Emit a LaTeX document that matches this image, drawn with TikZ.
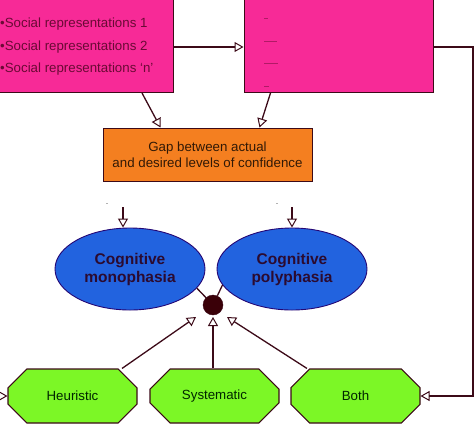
\documentclass[tikz,border=0pt]{standalone}
\usepackage{fontspec}
\setmainfont{Liberation Sans}
\usetikzlibrary{arrows.meta,shapes.geometric,shapes.misc,calc}
\definecolor{pinkf}{HTML}{F72A97}
\definecolor{orangef}{HTML}{F47F20}
\definecolor{bluef}{HTML}{2263DF}
\definecolor{greenf}{HTML}{7CF726}
\definecolor{edge}{HTML}{3C0A18}
\definecolor{pinktxt}{HTML}{6A0A35}
\definecolor{elltxt}{HTML}{2B0B30}
\definecolor{dotf}{HTML}{3A0008}
\tikzset{
  pinkbox/.style={draw=edge, line width=1pt, fill=pinkf, rectangle, inner sep=0pt},
  gapbox/.style={draw=edge, line width=1pt, fill=orangef, rectangle, minimum width=209pt, minimum height=53pt, align=center, font=\fontsize{13.3}{16}\selectfont, text=black!80!orangef},
  ellnode/.style={draw=edge!60!blue, line width=0.9pt, fill=bluef, ellipse, minimum width=150pt, minimum height=82pt, inner sep=0pt, align=center, font=\fontsize{15.5}{18}\selectfont\bfseries, text=elltxt},
  octo/.style={draw=edge, line width=1.1pt, fill=greenf, chamfered rectangle, chamfered rectangle xsep=12pt, chamfered rectangle ysep=14pt, minimum width=129pt, minimum height=54pt, inner sep=0pt, font=\fontsize{13.3}{16}\selectfont, text=black!85!green},
  arr/.style={draw=edge, line width=1.3pt, -{Triangle[open, length=9pt, width=10pt, line width=1pt]}},
  link/.style={draw=edge, line width=1.3pt},
  smudge/.style={draw=pinktxt!50!pinkf, line width=0.4pt},
}
\begin{document}
\begin{tikzpicture}[x=1pt,y=-1pt]
\useasboundingbox (0,0) rectangle (474,424);
% pink boxes
\node[pinkbox, minimum width=178pt, minimum height=93pt] (lbox) at (84,46) {};
\node[anchor=west, align=left, text=pinktxt, font=\fontsize{13.3}{22.5}\selectfont, inner sep=0pt] (ltext) at (0,47) {•Social representations 1\\•Social representations 2\\•Social representations ‘n’};
\node[pinkbox, minimum width=189pt, minimum height=95pt] (rbox) at (338.5,45) {};
% illegible tiny marks in right box
\draw[smudge] (264,18) -- (268,18);
\draw[smudge] (264,41) -- (277,41);
\draw[smudge] (264,63) -- (278,63);
\draw[smudge] (264,86) -- (269,86);
% gap box
\node[gapbox] (gap) at (207.5,154.5) {Gap between actual\\and desired levels of confidence};
% ellipses
\node[ellnode] (mono) at (130,269) {Cognitive\\monophasia};
\node[ellnode] (poly) at (292,269) {Cognitive\\polyphasia};
% dot
\node[circle, fill=dotf, draw=edge, minimum size=20pt, inner sep=0pt] (dot) at (213,305) {};
% octagons
\node[octo] (heur) at (72.5,396) {Heuristic};
\node[octo] (syst) at (214.5,396) {Systematic};
\node[octo] (both) at (355.5,396) {Both};
% connectors
\draw[arr] (lbox.east |- 0,47) -- (rbox.west |- 0,47);
\draw[arr] (rbox.east |- 0,47) -- (473,47) |- (both.east);
\coordinate (hin) at (-6,396);
\draw[arr] (hin) -- (heur.west);
\draw[arr] ([xshift=58pt]lbox.south) -- ([xshift=-47pt]gap.north);
\draw[arr] ([xshift=-68pt]rbox.south) -- ([xshift=52pt]gap.north);
\coordinate (m1) at (123,207);
\coordinate (p1) at (292,207);
\draw[arr] (m1) -- (m1 |- mono.north);
\draw[arr] (p1) -- (p1 |- poly.north);
\draw[draw=gray!60, line width=0.5pt] (106,203) -- (108,203);
\draw[draw=gray!60, line width=0.5pt] (276,203) -- (278,203);
\draw[link] (mono.-16) -- (dot);
\draw[link] (poly.-167) -- (dot);
\draw[arr] ([xshift=49.5pt]heur.north) -- ([shift={(-17,12)}]dot.center);
\draw[arr] (syst.north -| dot.center) -- ([shift={(0,12)}]dot.center);
\draw[arr] ([xshift=-48.5pt]both.north) -- ([shift={(14,12)}]dot.center);
\end{tikzpicture}
\end{document}
